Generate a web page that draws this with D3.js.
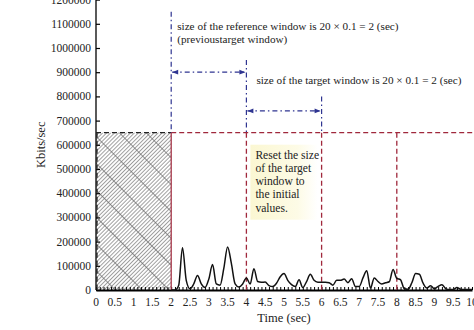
<!DOCTYPE html>
<html>
<head>
<meta charset="utf-8">
<script src="https://cdn.jsdelivr.net/npm/d3@7"></script>
<style>
  html, body { margin: 0; padding: 0; background: #fff; }
  svg { display: block; font-family: "Liberation Serif", "DejaVu Serif", serif; }
</style>
</head>
<body>
<svg id="chart" width="474" height="330"></svg>
<script>
// Throughput samples (Kbits/sec) every 0.1 s from t = 2.0 s to 10.0 s
const times = d3.range(20, 101).map(i => i / 10);
const rates = [
  0, 0, 20000, 175000, 40000, 5000, 25000, 60000, 25000, 10000,
  45000, 105000, 25000, 20000, 90000, 178000, 110000, 25000, 12000, 25000,
  50000, 25000, 88000, 35000, 32000, 33000, 18000, 14000, 28000, 55000,
  68000, 40000, 22000, 14000, 42000, 10000, 35000, 65000, 40000, 32000,
  32000, 32000, 30000, 20000, 40000, 40000, 45000, 30000, 47000, 14000,
  14000, 50000, 80000, 8000, 50000, 35000, 25000, 30000, 34000, 85000,
  48000, 42000, 5000, 3000, 30000, 68000, 65000, 28000, 8000, 18000,
  5000, 15000, 22000, 6000, 2000, 2000, 10000, 3000, 2000, 2000, 2000
];

// Axis ticks
const xTickLabels = ["0","0.5","1","1.5","2","2.5","3","3.5","4","4.5","5","5.5","6","6.5","7","7.5","8","8.5","9","9.5","10"];
const yTicks = d3.range(0, 1200001, 100000);

// Window markers
const referenceWindow = [0, 2];      // hatched reference window
const windowLevel = 650000;          // threshold level of the windows
const targetBounds = [4, 6, 8];      // successive target-window boundaries
const arrowSpans = [[2, 4], [4, 6]]; // window-size arrows

// Annotation texts
const refText = ["size of the reference window is 20 \u00d7 0.1 = 2 (sec)", "(previoustarget window)"];
const targetText = "size of the target window is 20 \u00d7 0.1 = 2 (sec)";
const noteLines = ["Reset the size", "of the target", "window to", "the initial", "values."];

const svg = d3.select("#chart");
const x = d3.scaleLinear().domain([0, 10]).range([96, 472]);
const y = d3.scaleLinear().domain([0, 1200000]).range([290, -0.4]);

const RED = "#a0283c";
const BLUE = "#2f3591";

const defs = svg.append("defs");
// dense "////" hatch
const hatch = defs.append("pattern").attr("id", "hatch")
  .attr("patternUnits", "userSpaceOnUse").attr("width", 2.8).attr("height", 2.8)
  .attr("patternTransform", "rotate(45)");
hatch.append("rect").attr("width", 2.8).attr("height", 2.8).attr("fill", "#fff");
hatch.append("rect").attr("x", 0.9).attr("y", 0).attr("width", 0.9).attr("height", 2.8)
  .attr("fill", "#969696");
// sparse "\\" lines
const hatch2 = defs.append("pattern").attr("id", "hatch2")
  .attr("patternUnits", "userSpaceOnUse").attr("width", 19).attr("height", 19)
  .attr("patternTransform", "rotate(-45)");
hatch2.append("rect").attr("x", 9).attr("y", 0).attr("width", 0.7).attr("height", 19)
  .attr("fill", "#666");

const grad = defs.append("linearGradient").attr("id", "noteFill")
  .attr("x1", 0).attr("x2", 1).attr("y1", 0).attr("y2", 0);
grad.append("stop").attr("offset", "0%").attr("stop-color", "#fbf7d2");
grad.append("stop").attr("offset", "70%").attr("stop-color", "#fdfbe6");
grad.append("stop").attr("offset", "100%").attr("stop-color", "#ffffff");

["arrowL", "arrowR"].forEach((id, i) => {
  defs.append("marker").attr("id", id)
    .attr("viewBox", "0 0 10 10").attr("refX", i ? 10 : 0).attr("refY", 5)
    .attr("markerWidth", 8).attr("markerHeight", 6).attr("markerUnits", "userSpaceOnUse")
    .attr("orient", "auto")
    .append("path").attr("d", i ? "M0,1L10,5L0,9Z" : "M10,1L0,5L10,9Z").attr("fill", BLUE);
});

// Hatched reference window
["url(#hatch)", "url(#hatch2)"].forEach(fill => {
  svg.append("rect")
    .attr("x", x(referenceWindow[0])).attr("y", y(windowLevel))
    .attr("width", x(referenceWindow[1]) - x(referenceWindow[0]))
    .attr("height", y(0) - y(windowLevel))
    .attr("fill", fill);
});

// Note box
const noteG = svg.append("g");
noteG.append("rect")
  .attr("x", x(4) + 4).attr("y", y(windowLevel) + 12)
  .attr("width", x(6) - x(4) - 8).attr("height", 75)
  .attr("fill", "url(#noteFill)");
noteG.selectAll("text").data(noteLines).join("text")
  .attr("x", x(4) + 9)
  .attr("y", (d, i) => y(windowLevel) + 26 + i * 13.2)
  .attr("font-size", 11.6).attr("fill", "#222")
  .text(d => d);

// Y axis
svg.append("line").attr("x1", x(0)).attr("x2", x(0)).attr("y1", 0).attr("y2", y(0))
  .attr("stroke", "#000").attr("stroke-width", 1.3);
const yAxis = svg.append("g").attr("transform", `translate(${x(0)},0)`)
  .call(d3.axisRight(y).tickValues(yTicks).tickSize(4).tickFormat(""));
yAxis.select(".domain").remove();
yAxis.selectAll("line").attr("stroke", "#000").attr("stroke-width", 1.2);
svg.append("g").selectAll("text").data(yTicks).join("text")
  .attr("x", x(0) - 5).attr("y", d => y(d) + 4)
  .attr("text-anchor", "end").attr("font-size", 11.5).attr("fill", "#222")
  .text(d => d);

// X axis
const xAxis = svg.append("g").attr("transform", `translate(0,${y(0)})`)
  .call(d3.axisTop(x).tickValues(d3.range(0, 101).map(i => i / 10)).tickSize(3).tickFormat("").tickSizeOuter(0));
xAxis.select(".domain").attr("stroke", "#000").attr("stroke-width", 1.8);
xAxis.selectAll(".tick line").attr("stroke", "#000").attr("stroke-width", 1);
svg.append("g").selectAll("text").data(xTickLabels).join("text")
  .attr("x", (d) => x(+d)).attr("y", y(0) + 16)
  .attr("text-anchor", "middle").attr("font-size", 11.5).attr("fill", "#222")
  .text(d => d);

// Window borders
svg.append("line")
  .attr("x1", x(0)).attr("x2", x(2)).attr("y1", y(windowLevel)).attr("y2", y(windowLevel))
  .attr("stroke", "#222").attr("stroke-width", 1.3).attr("stroke-dasharray", "5,3");
svg.append("line")
  .attr("x1", x(0) + 1).attr("x2", x(0) + 1).attr("y1", y(windowLevel)).attr("y2", y(0))
  .attr("stroke", "#222").attr("stroke-width", 1.3).attr("stroke-dasharray", "5,3");
svg.append("line")
  .attr("x1", x(2)).attr("x2", 474).attr("y1", y(windowLevel)).attr("y2", y(windowLevel))
  .attr("stroke", RED).attr("stroke-width", 1.3).attr("stroke-dasharray", "5,3");
svg.append("line")
  .attr("x1", x(2)).attr("x2", x(2)).attr("y1", y(windowLevel)).attr("y2", y(0))
  .attr("stroke", RED).attr("stroke-width", 1.2);
svg.append("g").selectAll("line").data(targetBounds).join("line")
  .attr("x1", d => x(d)).attr("x2", d => x(d))
  .attr("y1", y(windowLevel)).attr("y2", y(0))
  .attr("stroke", RED).attr("stroke-width", 1.3).attr("stroke-dasharray", "5,3");

// Blue dash-dot guides
const guideTops = [[2, 1150000], [4, 950000], [6, 800000]];
svg.append("g").selectAll("line").data(guideTops).join("line")
  .attr("x1", d => x(d[0])).attr("x2", d => x(d[0]))
  .attr("y1", d => y(d[1])).attr("y2", y(windowLevel))
  .attr("stroke", BLUE).attr("stroke-width", 1.2).attr("stroke-dasharray", "5,3,1.5,3");
const arrowLevels = [900000, 740000];
svg.append("g").selectAll("line").data(arrowSpans).join("line")
  .attr("x1", d => x(d[0]) + 1).attr("x2", d => x(d[1]) - 1)
  .attr("y1", (d, i) => y(arrowLevels[i])).attr("y2", (d, i) => y(arrowLevels[i]))
  .attr("stroke", BLUE).attr("stroke-width", 1.2).attr("stroke-dasharray", "5,3,1.5,3")
  .attr("marker-start", "url(#arrowL)").attr("marker-end", "url(#arrowR)");

// Annotation texts
svg.append("g").selectAll("text").data(refText).join("text")
  .attr("x", x(2) + 6).attr("y", (d, i) => 30 + i * 12.5)
  .attr("font-size", 11.2).attr("fill", "#222")
  .text(d => d);
svg.append("text").attr("x", x(4) + 10).attr("y", 84)
  .attr("font-size", 11.2).attr("fill", "#222").text(targetText);

// Throughput line
const line = d3.line().x((d, i) => x(times[i])).y(d => y(d)).curve(d3.curveMonotoneX);
svg.append("path").datum(rates)
  .attr("d", line).attr("fill", "none")
  .attr("stroke", "#111").attr("stroke-width", 1.5);

// Axis titles
svg.append("text").attr("x", x(5)).attr("y", 322)
  .attr("text-anchor", "middle").attr("font-size", 12.5).attr("fill", "#222").text("Time (sec)");
svg.append("text").attr("transform", `translate(45,${y(600000)}) rotate(-90)`)
  .attr("text-anchor", "middle").attr("font-size", 12.5).attr("fill", "#222").text("Kbits/sec");
</script>
</body>
</html>
